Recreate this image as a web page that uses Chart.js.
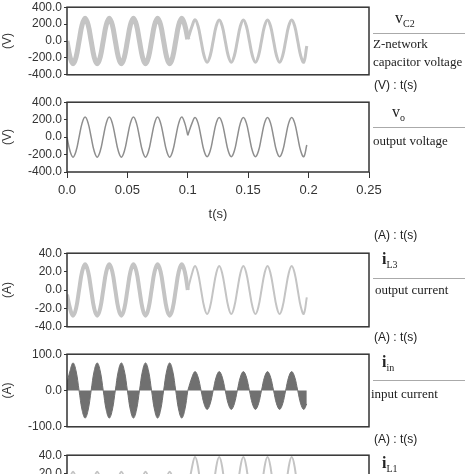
<!DOCTYPE html>
<html><head><meta charset="utf-8">
<script src="https://cdn.jsdelivr.net/npm/chart.js@4/dist/chart.umd.min.js"></script>
<style>
body{margin:0;background:#fff;width:474px;height:474px;overflow:hidden;position:relative;font-family:"Liberation Serif",serif;color:#222}
canvas{position:absolute;left:0}
.lb{position:absolute;white-space:nowrap}
.big{font-size:16px}
.sm{font-size:13px}
.sa{font-family:"Liberation Sans",Arial,sans-serif;font-size:12px}
.hr{position:absolute;left:373px;width:92px;height:1px;background:#aaa}
sub{font-size:10px}
</style></head><body>
<canvas id="c1"></canvas><canvas id="c2"></canvas><canvas id="c3"></canvas><canvas id="c4"></canvas><canvas id="c5"></canvas>
<div class="lb big" style="left:395px;top:9px">v<sub>C2</sub></div><div class="hr" style="top:33px"></div>
<div class="lb sm" style="left:373px;top:36px">Z-network</div>
<div class="lb sm" style="left:373px;top:54px">capacitor voltage</div>
<div class="lb sa" style="left:374px;top:78px">(V) : t(s)</div>
<div class="lb big" style="left:392px;top:103px">v<sub>o</sub></div><div class="hr" style="top:127px"></div>
<div class="lb sm" style="left:373px;top:133px">output voltage</div>
<div class="lb sa" style="left:374px;top:228px">(A) : t(s)</div>
<div class="lb big" style="left:382px;top:250px"><b>i</b><sub>L3</sub></div><div class="hr" style="top:278px"></div>
<div class="lb sm" style="left:375px;top:282px">output current</div>
<div class="lb sa" style="left:374px;top:330px">(A) : t(s)</div>
<div class="lb big" style="left:382px;top:353px"><b>i</b><sub>in</sub></div><div class="hr" style="top:380px"></div>
<div class="lb sm" style="left:371px;top:386px">input current</div>
<div class="lb sa" style="left:374px;top:432px">(A) : t(s)</div>
<div class="lb big" style="left:382px;top:454px"><b>i</b><sub>L1</sub></div>
<script>
// times in seconds
const tFirst = [0,0.0025,0.005,0.0075,0.01,0.0125,0.015,0.0175,0.02,0.0225,0.025,0.0275,0.03,0.0325,0.035,0.0375,0.04,0.0425,0.045,0.0475,
  0.05,0.0525,0.055,0.0575,0.06,0.0625,0.065,0.0675,0.07,0.0725,0.075,0.0775,0.08,0.0825,0.085,0.0875,0.09,0.0925,0.095,0.0975,0.1];
const tSecond = [0.1,0.1035,0.106,0.1085,0.111,0.1135,0.116,0.1185,0.121,0.1235,0.126,0.1285,0.131,0.1335,0.136,0.1385,0.141,0.1435,0.146,0.1485,
  0.151,0.1535,0.156,0.1585,0.161,0.1635,0.166,0.1685,0.171,0.1735,0.176,0.1785,0.181,0.1835,0.186,0.1885,0.191,0.1935,0.196,0.1985];

const vc2First = [0,-190,-270,-190,0,190,270,190,0,-190,-270,-190,0,190,270,190,0,-190,-270,-190,
  0,190,270,190,0,-190,-270,-190,0,190,270,190,0,-190,-270,-190,0,190,270,190,20];
const vc2Second = [20,175,250,175,0,-175,-250,-175,0,175,250,175,0,-175,-250,-175,0,175,250,175,
  0,-175,-250,-175,0,175,250,175,0,-175,-250,-175,0,175,250,175,0,-175,-250,-60];
const voFirst = [0,-160,-230,-160,0,160,230,160,0,-160,-230,-160,0,160,230,160,0,-160,-230,-160,
  0,160,230,160,0,-160,-230,-160,0,160,230,160,0,-160,-230,-160,0,160,230,160,20];
const voSecond = [20,160,225,160,0,-160,-225,-160,0,160,225,160,0,-160,-225,-160,0,160,225,160,
  0,-160,-225,-160,0,160,225,160,0,-160,-225,-160,0,160,225,160,0,-160,-225,-90];
const il3First = [-5,-20,-28,-20,0,20,28,20,0,-20,-28,-20,0,20,28,20,0,-20,-28,-20,
  0,20,28,20,0,-20,-28,-20,0,20,28,20,0,-20,-28,-20,0,20,28,20,0];
const il3Second = [0,18,26,18,0,-18,-26,-18,0,18,26,18,0,-18,-26,-18,0,18,26,18,
  0,-18,-26,-18,0,18,26,18,0,-18,-26,-18,0,18,26,18,0,-18,-26,-8];
const iinFirst = [20,54,76,54,0,-54,-76,-54,0,54,76,54,0,-54,-76,-54,0,54,76,54,
  0,-54,-76,-54,0,54,76,54,0,-54,-76,-54,0,54,76,54,0,-54,-76,-54,0];
const iinSecond = [0,37,52,37,0,-37,-52,-37,0,37,52,37,0,-37,-52,-37,0,37,52,37,
  0,-37,-52,-37,0,37,52,37,0,-37,-52,-37,0,37,52,37,0,-37,-52,-37];
const il1First = [0,15,22,15,0,-14,-20,-14,0,15,22,15,0,-14,-20,-14,0,15,22,15,
  0,-14,-20,-14,0,15,22,15,0,-14,-20,-14,0,15,22,15,0,-14,-20,-14,0];
const il1Second = [0,27,38,27,0,-27,-38,-27,0,27,38,27,0,-27,-38,-27,0,27,38,27,
  0,-27,-38,-27,0,27,38,27,0,-27,-38,-27,0,27,38,27,0,-27,-38,-27];

const xTicks = [0,0.05,0.1,0.15,0.2,0.25];
const xLabels = ['0.0','0.05','0.1','0.15','0.2','0.25'];

function pts(ts, vs){ return ts.map((t,i)=>({x:t,y:vs[i]})); }

const boxPlugin = {
  id:'box',
  afterDraw(chart){
    const a = chart.chartArea, ctx = chart.ctx;
    ctx.save(); ctx.strokeStyle='#333'; ctx.lineWidth=1.5;
    ctx.strokeRect(a.left,a.top,a.right-a.left,a.bottom-a.top);
    ctx.restore();
  }
};

function panel(id, top, boxH, ds, yTicks, unit, showX){
  const cv = document.getElementById(id);
  const bottomExtra = showX ? 50 : 8;
  const h = boxH+8+bottomExtra;
  cv.width=474; cv.height=h;
  cv.style.top = (top-8)+'px';
  cv.style.width='474px'; cv.style.height=h+'px';
  new Chart(cv, {
    type:'line',
    data:{datasets:ds.map(d=>Object.assign({pointRadius:0,tension:0.4,fill:false},d))},
    options:{
      responsive:false, animation:false, devicePixelRatio:1,
      layout:{padding:{top:8,right:105,bottom:showX?0:8,left:0}},
      plugins:{legend:{display:false},tooltip:{enabled:false}},
      scales:{
        x:{type:'linear',min:0,max:0.25,display:showX,
          afterBuildTicks:s=>{s.ticks=xTicks.map(v=>({value:v}));},
          ticks:{autoSkip:false,maxRotation:0,color:'#333',font:{family:'Liberation Sans',size:13},padding:5,callback:(v,i)=>xLabels[i]},
          grid:{drawOnChartArea:false,tickLength:6,color:'#333'},border:{display:false},
          title:{display:true,text:'t(s)',color:'#333',font:{family:'Liberation Sans',size:13},padding:0},
          afterFit:s=>{if(showX) s.height=50;}},
        y:{min:yTicks[0],max:yTicks[yTicks.length-1],
          afterBuildTicks:s=>{s.ticks=yTicks.map(v=>({value:v}));},
          ticks:{autoSkip:false,color:'#333',font:{family:'Liberation Sans',size:12},padding:2,callback:v=>v.toFixed(1)},
          grid:{drawOnChartArea:false,tickLength:3,color:'#333'},border:{display:false},
          title:{display:true,text:unit,color:'#333',font:{family:'Liberation Sans',size:12},padding:0},
          afterFit:s=>{s.width=67;}}
      }
    },
    plugins:[boxPlugin]
  });
}

const voltTicks = [-400,-200,0,200,400];
const ampTicks = [-40,-20,0,20,40];
const inTicks = [-100,0,100];
const light='#c4c4c4', mid='#8e8e8e', dark='#707070';
panel('c1',6,70,[
  {data:pts(tFirst,vc2First),borderColor:light,borderWidth:5},
  {data:pts(tSecond,vc2Second),borderColor:light,borderWidth:3}],voltTicks,'(V)',false);
panel('c2',101,71,[
  {data:pts(tFirst,voFirst),borderColor:mid,borderWidth:1.5},
  {data:pts(tSecond,voSecond),borderColor:mid,borderWidth:1.5}],voltTicks,'(V)',true);
panel('c3',252,76,[
  {data:pts(tFirst,il3First),borderColor:light,borderWidth:4},
  {data:pts(tSecond,il3Second),borderColor:light,borderWidth:2}],ampTicks,'(A)',false);
panel('c4',353,75,[
  {data:pts(tFirst,iinFirst),borderColor:dark,backgroundColor:dark,borderWidth:1,fill:'origin'},
  {data:pts(tSecond,iinSecond),borderColor:dark,backgroundColor:dark,borderWidth:1,fill:'origin'}],inTicks,'(A)',false);
panel('c5',454,76,[
  {data:pts(tFirst,il1First),borderColor:light,borderWidth:2},
  {data:pts(tSecond,il1Second),borderColor:light,borderWidth:2}],ampTicks,'(A)',false);
</script>
</body></html>
